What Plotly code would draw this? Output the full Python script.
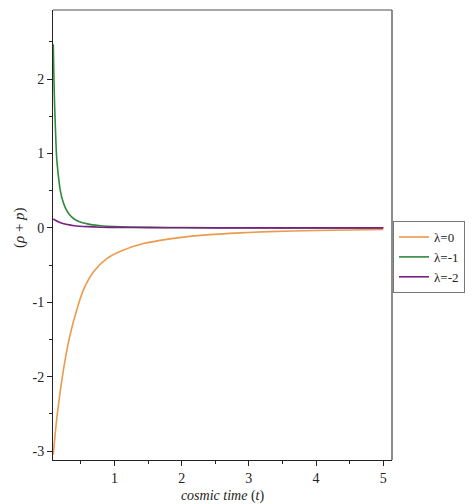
import plotly.graph_objects as go

# cosmic time samples and (rho + p) values
t_orange = [0.09, 0.11, 0.14, 0.19, 0.265, 0.34, 0.44, 0.54, 0.69, 0.89, 1.1, 1.43, 1.8, 2.28, 2.8, 3.3, 4.0, 4.5, 5.0]
y_orange = [-3.05, -2.85, -2.58, -2.22, -1.78, -1.44, -1.10, -0.83, -0.59, -0.41, -0.31, -0.21, -0.15, -0.10, -0.07, -0.05, -0.035, -0.027, -0.022]

t_green = [0.09, 0.10, 0.11, 0.12, 0.14, 0.16, 0.19, 0.22, 0.27, 0.33, 0.40, 0.50, 0.65, 0.80, 1.0, 1.5, 2.0, 3.0, 4.0, 5.0]
y_green = [2.47, 2.0, 1.65, 1.39, 0.95, 0.75, 0.53, 0.40, 0.27, 0.18, 0.12, 0.075, 0.045, 0.03, 0.02, 0.009, 0.005, 0.002, 0.001, 0.0008]

t_purple = [0.09, 0.15, 0.2, 0.3, 0.4, 0.6, 0.8, 1.0, 1.5, 2.0, 3.0, 4.0, 5.0]
y_purple = [0.12, 0.09, 0.07, 0.045, 0.03, 0.017, 0.01, 0.007, 0.004, 0.002, 0.001, 0.0005, 0.0003]

series_names = ["λ=0", "λ=-1", "λ=-2"]
x_ticks = [1, 2, 3, 4, 5]
x_labels = ["1", "2", "3", "4", "5"]
y_ticks = [-3, -2, -1, 0, 1, 2]
y_labels = ["-3", "-2", "-1", "0", "1", "2"]

SERIF = "Liberation Serif, Times New Roman, serif"

fig = go.Figure()
for name, xs, ys, col in [
    (series_names[0], t_orange, y_orange, "#EC9A4C"),
    (series_names[1], t_green, y_green, "#2F8A3B"),
    (series_names[2], t_purple, y_purple, "#7A1F84"),
]:
    fig.add_trace(go.Scatter(x=xs, y=ys, mode="lines", name=name,
                             line=dict(color=col, width=1.6, shape="spline", smoothing=0.8)))

fig.update_layout(
    width=474, height=504,
    margin=dict(l=53, r=82, t=10, b=44, autoexpand=False),
    paper_bgcolor="white", plot_bgcolor="white",
    font=dict(family=SERIF, size=14, color="#222"),
    legend=dict(x=1.003, xanchor="left", y=0.531, yanchor="top",
                bordercolor="#777", borderwidth=1, bgcolor="white",
                font=dict(family=SERIF, size=13, color="#222"),
                tracegroupgap=0, itemwidth=30),
    xaxis=dict(range=[0.086, 5.13], tickvals=x_ticks, ticktext=x_labels, ticks="outside", ticklen=5,
               tickcolor="#222", showline=True, linecolor="#222", linewidth=1,
               showgrid=False, zeroline=False, automargin=False,
               minor=dict(dtick=0.5, tick0=0, ticks="outside", ticklen=3, tickcolor="#222"),
               title=dict(text="<i>cosmic time</i> (<i>t</i>)", standoff=8,
                          font=dict(family=SERIF, size=14))),
    yaxis=dict(range=[-3.12, 2.93], tickvals=y_ticks, ticktext=y_labels, ticks="outside", ticklen=5,
               tickcolor="#222", showline=True, linecolor="#222", linewidth=1,
               showgrid=False, zeroline=False, automargin=False,
               minor=dict(dtick=0.5, tick0=0, ticks="outside", ticklen=3, tickcolor="#222")),
    showlegend=True,
)

# frame: top and right borders in gray
fig.add_shape(type="line", xref="paper", yref="paper", x0=0, x1=1, y0=1, y1=1,
              line=dict(color="#888", width=1.5))
fig.add_shape(type="line", xref="paper", yref="paper", x0=1, x1=1, y0=0, y1=1,
              line=dict(color="#666", width=1.5))

# y axis label centred on zero
fig.add_annotation(text="(<i>ρ</i> + <i>p</i>)", xref="paper", yref="y",
                   x=-0.097, y=0, xanchor="center", yanchor="middle",
                   textangle=-90, showarrow=False,
                   font=dict(family=SERIF, size=15, color="#222"))

fig.write_html(
    "out.html",
    config={"displayModeBar": False},
    post_script=(
        "document.documentElement.style.margin='0';"
        "document.documentElement.style.overflow='hidden';"
        "document.body.style.margin='0';"
        "document.body.style.overflow='hidden';"
    ),
)
